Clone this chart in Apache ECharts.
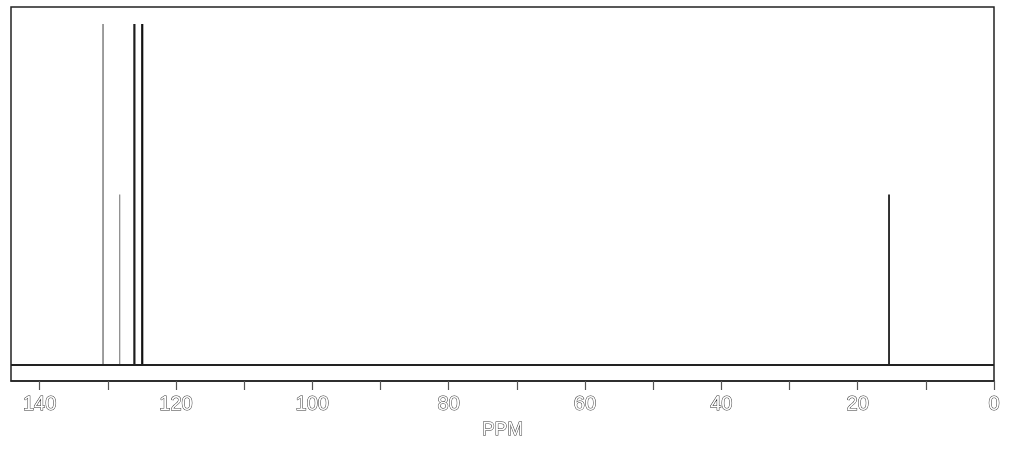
<!DOCTYPE html>
<html>
<head>
<meta charset="utf-8">
<script src="https://cdn.jsdelivr.net/npm/echarts@6/dist/echarts.min.js"></script>
<style>
  html, body { margin: 0; padding: 0; background: #fff; }
  #chart { width: 1024px; height: 450px; }
</style>
</head>
<body>
<div id="chart"></div>
<script>
    'use strict';

    // chemical shifts (ppm) and relative intensities
    var peakShifts = [130.7, 128.25, 126.1, 124.95, 15.4];
    var peakHeights = [1.0, 0.5, 1.0, 1.0, 0.5];

    // axis range and ticks
    var ppmMin = 0;
    var ppmMax = 144.2;
    var labelValues = [0, 20, 40, 60, 80, 100, 120, 140];
    var tickValues = [0, 10, 20, 30, 40, 50, 60, 70, 80, 90, 100, 110, 120, 130, 140];

    // line look per peak (thin gray vs heavy black)
    var peakLook = [
        { w: 1.3, c: '#6a6a6a' },
        { w: 1.1, c: '#7a7a7a' },
        { w: 2.2, c: '#1e1e1e' },
        { w: 2.2, c: '#111111' },
        { w: 1.8, c: '#1e1e1e' }
    ];

    var peakData = peakShifts.map(function(s, i) {
        return [s, peakHeights[i]];
    });

    var chart = echarts.init(document.getElementById('chart'));

    var option = {
        animation: false,
        backgroundColor: '#fff',
        grid: {
            left: 11,
            right: 30,
            top: 7,
            bottom: 69,
            show: true,
            borderColor: '#222',
            borderWidth: 1.5,
            backgroundColor: 'transparent'
        },
        xAxis: {
            type: 'value',
            inverse: true,
            min: ppmMin,
            max: ppmMax,
            name: 'PPM',
            nameLocation: 'middle',
            nameGap: 34,
            nameTextStyle: {
                fontFamily: 'Liberation Sans',
                fontSize: 19,
                color: '#fff',
                textBorderColor: '#333',
                textBorderWidth: 1
            },
            axisLine: { show: true, onZero: false, lineStyle: { color: '#222', width: 1.5 } },
            axisTick: {
                show: true,
                inside: false,
                length: 9,
                customValues: tickValues,
                lineStyle: { color: '#555', width: 1.2 }
            },
            axisLabel: {
                customValues: labelValues,
                margin: 13,
                fontFamily: 'Liberation Sans',
                fontSize: 20,
                color: '#fff',
                textBorderColor: '#333',
                textBorderWidth: 1
            },
            splitLine: { show: false }
        },
        yAxis: {
            type: 'value',
            min: -0.047,
            max: 1.05,
            show: false
        },
        series: [{
            // baseline
            type: 'line',
            data: [[ppmMax, 0], [ppmMin, 0]],
            symbol: 'none',
            silent: true,
            lineStyle: { color: '#222', width: 2 }
        }, {
            type: 'custom',
            data: peakData,
            renderItem: function(params, api) {
                var look = peakLook[params.dataIndex];
                var p0 = api.coord([api.value(0), 0]);
                var p1 = api.coord([api.value(0), api.value(1)]);
                return {
                    type: 'line',
                    shape: { x1: p0[0], y1: p0[1], x2: p1[0], y2: p1[1] },
                    style: { stroke: look.c, lineWidth: look.w }
                };
            }
        }]
    };

    chart.setOption(option);
</script>
</body>
</html>
